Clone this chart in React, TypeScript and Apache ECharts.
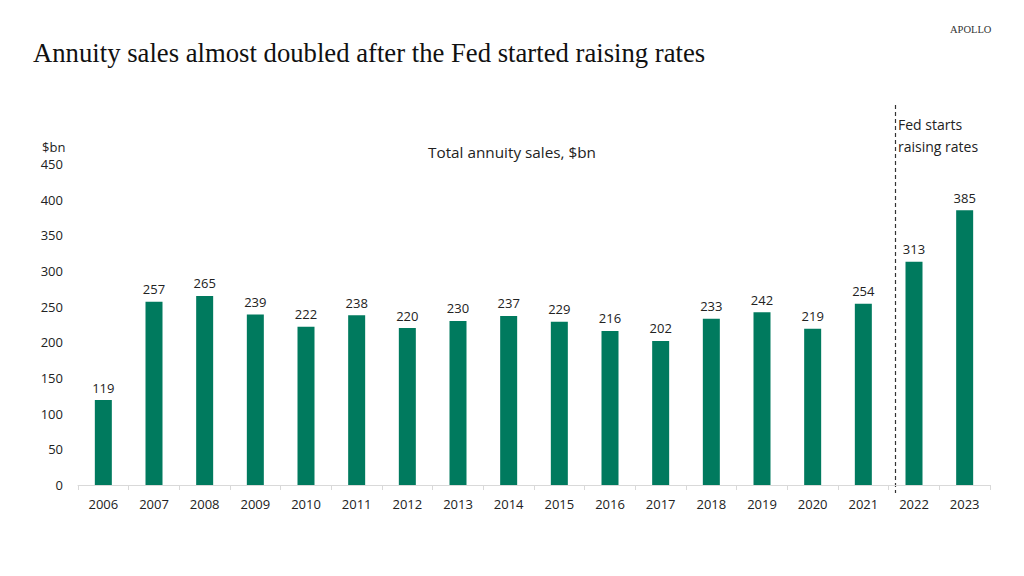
import React, { useEffect, useRef } from "react";
import * as echarts from "echarts";

const years = ["2006","2007","2008","2009","2010","2011","2012","2013","2014","2015","2016","2017","2018","2019","2020","2021","2022","2023"];
const sales = [119,257,265,239,222,238,220,230,237,229,216,202,233,242,219,254,313,385];
const yTicks = [0, 50, 100, 150, 200, 250, 300, 350, 400, 450];

const title = "Annuity sales almost doubled after the Fed started raising rates";
const subtitle = "Total annuity sales, $bn";
const annotation = "Fed starts\nraising rates";
const unit = "$bn";
const brand = "APOLLO";

const SANS = "'Open Sans', 'Noto Sans', sans-serif";
const SERIF = "'Liberation Serif', 'DejaVu Serif', serif";

export default function App() {
  const ref = useRef<HTMLDivElement>(null);
  useEffect(() => {
    if (!ref.current) return;
    const chart = echarts.init(ref.current, null, { renderer: "svg" });
    chart.setOption({
      animation: false,
      backgroundColor: "#ffffff",
      grid: { left: 78, right: 34, top: 164, bottom: 91 },
      xAxis: {
        type: "category",
        data: years,
        axisLine: { lineStyle: { color: "#d9d9d9", width: 1 } },
        axisTick: { show: true, alignWithLabel: false, length: 5, lineStyle: { color: "#d9d9d9" } },
        axisLabel: { color: "#222", fontFamily: SANS, fontSize: 13, margin: 12 },
      },
      yAxis: {
        type: "value",
        min: yTicks[0],
        max: yTicks[yTicks.length - 1],
        interval: 50,
        splitLine: { show: false },
        axisLine: { show: false },
        axisTick: { show: false },
        axisLabel: { color: "#222", fontFamily: SANS, fontSize: 13, margin: 15 },
      },
      series: [
        {
          type: "bar",
          data: sales,
          barWidth: 17,
          itemStyle: { color: "#007A5E" },
          label: { show: true, position: "top", distance: 6, color: "#222", fontFamily: SANS, fontSize: 13 },
        },
      ],
      graphic: [
        { type: "text", left: 33, top: 39, style: { text: title, font: `26.7px ${SERIF}`, fill: "#111" } },
        { type: "text", left: 950, top: 24, style: { text: brand, font: `10.5px ${SERIF}`, fill: "#333" } },
        { type: "text", left: 42, top: 140, style: { text: unit, font: `13px ${SANS}`, fill: "#222" } },
        { type: "text", x: 512, y: 144, style: { text: subtitle, font: `15.3px ${SANS}`, fill: "#222", align: "center" } },
        { type: "text", left: 898, top: 113, style: { text: annotation, font: `14px ${SANS}`, fill: "#222", lineHeight: 22 } },
        { type: "line", shape: { x1: 895.5, y1: 105, x2: 895.5, y2: 493 }, style: { stroke: "#333", lineWidth: 1.2, lineDash: [4, 3] } },
      ],
    });
    return () => chart.dispose();
  }, []);
  return <div ref={ref} style={{ position: "fixed", left: 0, top: 0, width: 1024, height: 576 }} />;
}
